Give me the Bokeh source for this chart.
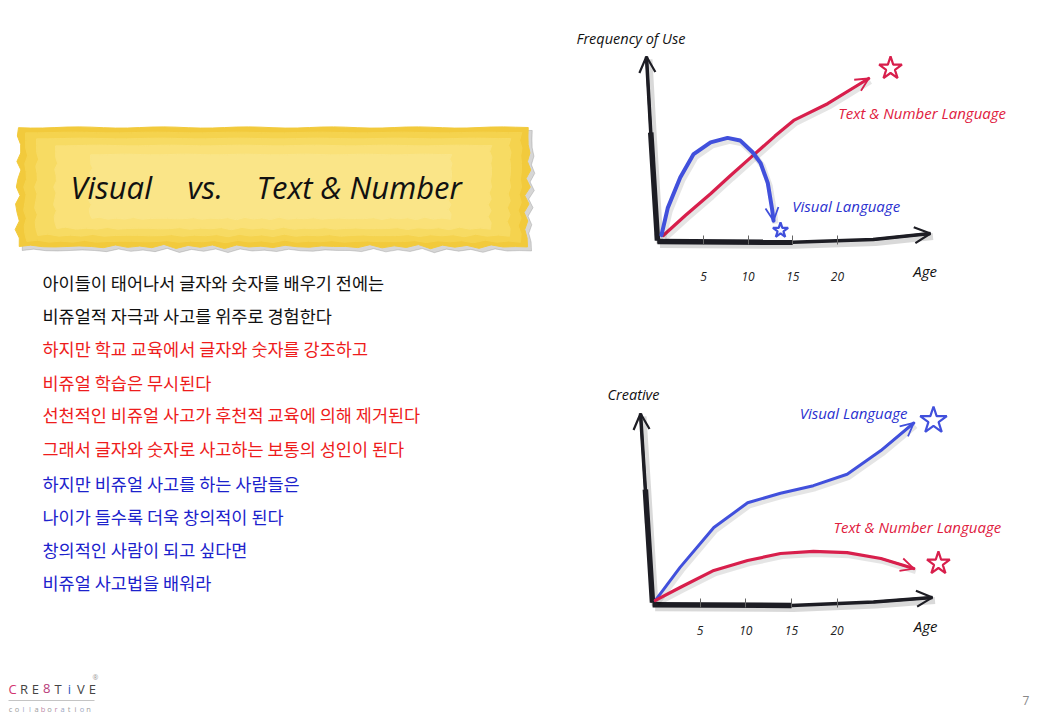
import numpy as np
from bokeh.plotting import figure
from bokeh.layouts import row, column
from bokeh.models import Range1d, Arrow, OpenHead, FixedTicker
from bokeh.core.properties import value
from bokeh.embed import file_html
from bokeh.resources import INLINE

FONT = "Open Sans"
KFONT = "Noto Sans CJK KR"

# ---------------- data ----------------
TITLE_PARTS = ["Visual", "vs.", "Text & Number"]

KOREAN_LINES = [
    "아이들이 태어나서 글자와 숫자를 배우기 전에는",
    "비쥬얼적 자극과 사고를 위주로 경험한다",
    "하지만 학교 교육에서 글자와 숫자를 강조하고",
    "비쥬얼 학습은 무시된다",
    "선천적인 비쥬얼 사고가 후천적 교육에 의해 제거된다",
    "그래서 글자와 숫자로 사고하는 보통의 성인이 된다",
    "하지만 비쥬얼 사고를 하는 사람들은",
    "나이가 들수록 더욱 창의적이 된다",
    "창의적인 사람이 되고 싶다면",
    "비쥬얼 사고법을 배워라",
]
KOREAN_GROUP = ["k", "k", "r", "r", "r", "r", "b", "b", "b", "b"]

TICK_AGES = [5, 10, 15, 20]

# chart 1 : frequency of use by age
visual_age_1 = [0.3, 1.0, 2.4, 3.9, 5.8, 7.7, 9.1, 10.5, 11.4, 12.2, 12.7, 12.85]
visual_freq_1 = [3, 18, 35, 48, 54.5, 57, 55.6, 49, 43, 32, 17, 11]
text_age_1 = [0.5, 3.0, 5.8, 8.0, 10.5, 13.0, 15.1, 18.9, 23.5]
text_freq_1 = [2.8, 14, 26, 36, 47, 58, 66.7, 76, 90]

# chart 2 : creativity by age
age_2 = [0.1, 2.8, 6.5, 10.2, 13.8, 17.4, 21.1, 24.8, 28.4]
visual_creative_2 = [1.6, 19, 40, 53, 58, 62, 68, 80.5, 95]
text_creative_2 = [1.6, 8.4, 17.4, 22.6, 26.3, 27.4, 26.8, 23.7, 18.4]

# ---------------- styles ----------------
C_BLACK = "#111111"
C_RED_TXT = "#ee1c1c"
C_BLUE_TXT = "#1c22cc"
C_LINE_RED = "#d81f4c"
C_LINE_BLUE = "#4150dc"
C_LBL_RED = "#e0203e"
C_LBL_BLUE = "#2a30cf"
GROUP_COLOR = {"k": C_BLACK, "r": C_RED_TXT, "b": C_BLUE_TXT}

# ---------------- left panel ----------------
left = figure(width=548, height=720, x_range=Range1d(0, 548), y_range=Range1d(720, 0),
              output_backend="svg", toolbar_location=None,
              x_axis_location=None, y_axis_location=None,
              min_border_left=0, min_border_right=0, min_border_top=0, min_border_bottom=0)
left.grid.grid_line_color = None
left.outline_line_color = None
left.background_fill_color = "white"
left.border_fill_color = "white"


def torn_shape(x0, y0, x1, y1, amp, ph):
    xs, ys = [], []
    n, m = 42, 14
    for i in range(n):
        t = i / n
        xs.append(x0 + (x1 - x0) * t)
        ys.append(y0 + amp * 0.25 * np.sin(0.9 * i + ph))
    for i in range(m):
        t = i / m
        xs.append(x1 + amp * (np.sin(2.9 * i + ph) + 0.6 * np.sin(6.7 * i)))
        ys.append(y0 + (y1 - y0) * t)
    for i in range(n):
        t = i / n
        xs.append(x1 - (x1 - x0) * t)
        ys.append(y1 + amp * 0.6 * (np.sin(3.3 * i + ph) + 0.5 * np.sin(8.1 * i)))
    for i in range(m):
        t = i / m
        xs.append(x0 + amp * (np.sin(2.3 * i + ph) + 0.5 * np.sin(5.9 * i)))
        ys.append(y1 - (y1 - y0) * t)
    return xs, ys


sx, sy = torn_shape(21, 130, 531, 250, 2.5, 0.3)
left.patch(sx, sy, color="#8a8a8a", alpha=0.35)
bx, by = torn_shape(18, 127, 527, 246, 2.5, 0.3)
left.patch(bx, by, color="#f2ca3c")
for (x0, y0, x1, y1, col) in [(25, 132, 520, 241, "#f5d450"),
                              (36, 138, 509, 235, "#f7db66"),
                              (55, 145, 490, 228, "#f9e17a"),
                              (90, 154, 450, 218, "#fae58a")]:
    ix, iy = torn_shape(x0, y0, x1, y1, 1.5, 1.1)
    left.patch(ix, iy, color=col, alpha=0.9)

left.text(x=[70, 187, 256], y=[186, 186, 186], text=TITLE_PARTS,
          text_font=value(FONT), text_font_size="31px", text_font_style="italic",
          text_color=C_BLACK, text_baseline="middle", text_align="left")

k_y = [281.5, 315, 347.5, 381.5, 414, 448, 482.5, 515.5, 549, 581.5]
left.text(x=[42] * len(KOREAN_LINES), y=k_y, text=KOREAN_LINES,
          text_color=[GROUP_COLOR[g] for g in KOREAN_GROUP],
          text_font=value(KFONT), text_font_size="17.5px",
          text_baseline="middle", text_align="left")

# logo
logo_letters = ["C", "R", "E", "8", "T", "i", "V", "E"]
logo_colors = ["#d2346e", "#444444", "#444444", "#b83a78", "#444444", "#2a5cc0", "#444444", "#444444"]
left.text(x=[12 + 11.4 * i for i in range(8)], y=[688] * 8, text=logo_letters,
          text_color=logo_colors, text_font=value(FONT), text_font_size="13px",
          text_baseline="middle", text_align="center")
left.line([8, 94], [700, 700], color="#c4c4c4", line_width=1)
left.text(x=[95], y=[677], text=["®"], text_color="#999999", text_font=value(FONT),
          text_font_size="7px", text_baseline="middle", text_align="center")
col_letters = list("collaboration")
col_colors = ["#999999", "#a0a0a0", "#9aa7c4", "#9aa7c4", "#a0a0a0", "#c08aa8", "#999999",
              "#c08aa8", "#9aa7c4", "#a0a0a0", "#999999", "#9aa7c4", "#a0a0a0"]
left.text(x=[10 + 6.5 * i for i in range(13)], y=[708] * 13, text=col_letters,
          text_color=col_colors, text_font=value(FONT), text_font_size="7.5px",
          text_baseline="middle", text_align="center")


# ---------------- charts ----------------
def make_chart(h, xr, yr, standoff):
    p = figure(width=492, height=h, x_range=Range1d(*xr), y_range=Range1d(*yr),
               output_backend="svg", toolbar_location=None,
               y_axis_location=None, x_axis_location="below",
               min_border_left=0, min_border_right=0, min_border_top=0,
               min_border_bottom=0)
    p.grid.grid_line_color = None
    p.outline_line_color = None
    p.background_fill_color = "white"
    p.border_fill_color = "white"
    ax = p.xaxis[0]
    ax.fixed_location = 0
    ax.ticker = FixedTicker(ticks=TICK_AGES)
    ax.axis_line_color = None
    ax.major_tick_in = 5
    ax.major_tick_out = 4
    ax.major_tick_line_color = "#666666"
    ax.major_tick_line_width = 1
    ax.minor_tick_line_color = None
    ax.major_label_text_font = FONT
    ax.major_label_text_font_style = "italic"
    ax.major_label_text_font_size = "12px"
    ax.major_label_text_color = "#222222"
    ax.major_label_standoff = standoff
    return p


def hand_axes(p, sxp, syp, y_axis, x_axis):
    dx, dy = 2.5 / sxp, -3.0 / syp
    for xs, ys in (y_axis, x_axis):
        xs = np.array(xs, dtype=float)
        ys = np.array(ys, dtype=float)
        p.line(xs + dx, ys + dy, color="#000000", alpha=0.15, line_width=7)
        p.line(xs, ys, color="#1d1d24", line_width=3.5)
        p.line(xs[:2], ys[:2], color="#1d1d24", line_width=5.5)
        p.add_layout(Arrow(end=OpenHead(size=16, line_color="#1d1d24", line_width=2.2),
                           x_start=xs[-2], y_start=ys[-2], x_end=xs[-1], y_end=ys[-1],
                           line_color="#1d1d24", line_width=2.5))


def curve(p, sxp, syp, xs, ys, color, width, head):
    xs = np.array(xs, dtype=float)
    ys = np.array(ys, dtype=float)
    p.line(xs + 2.0 / sxp, ys - 3.0 / syp, color="#000000", alpha=0.10, line_width=width + 2)
    p.line(xs, ys, color=color, line_width=width, line_join="round", line_cap="round")
    p.add_layout(Arrow(end=OpenHead(size=head, line_color=color, line_width=1.8),
                       x_start=xs[-2], y_start=ys[-2], x_end=xs[-1], y_end=ys[-1],
                       line_color=color, line_width=width * 0.6))


def star(p, x, y, size, color):
    p.scatter([x], [y], marker="star", size=size, fill_color=None,
              line_color=color, line_width=2.2)


def txt(p, x, y, s, color, size, style="italic"):
    p.text(x=[x], y=[y], text=[s], text_color=color, text_font=value(FONT),
           text_font_size=size, text_font_style=style,
           text_baseline="middle", text_align="left")


# chart 1  (frame: x 548..1040, y 0..338)
c1 = make_chart(338, (-12.35, 42.74), (-54.44, 133.33), 27)
S1X, S1Y = 8.93, 1.8
hand_axes(c1, S1X, S1Y,
          ([-0.15, -0.9, -1.38], [0, 60, 102.2]),
          ([-0.15, 15, 24, 30.42], [-0.6, -1.0, 0.6, 3.9]))
curve(c1, S1X, S1Y, text_age_1, text_freq_1, C_LINE_RED, 3.2, 13)
curve(c1, S1X, S1Y, visual_age_1, visual_freq_1, C_LINE_BLUE, 4.0, 13)
star(c1, 25.95, 95.6, 24, C_LINE_RED)
star(c1, 13.63, 5.6, 16, C_LINE_BLUE)
txt(c1, -9.22, 112.2, "Frequency of Use", "#111111", "14.5px")
txt(c1, 20.1, 71.1, "Text & Number Language", C_LBL_RED, "15px")
txt(c1, 14.95, 19.4, "Visual Language", C_LBL_BLUE, "15px")
txt(c1, 28.5, -16.7, "Age", "#111111", "15px")

# chart 2  (frame: x 548..1040, y 338..720)
c2 = make_chart(382, (-11.61, 42.28), (-61.58, 139.47), 19)
S2X, S2Y = 9.13, 1.9
hand_axes(c2, S2X, S2Y,
          ([-0.22, -1.0, -1.53], [0.5, 60, 100]),
          ([-0.2, 15, 24, 30.45], [-0.6, -1.0, 0.8, 3.2]))
curve(c2, S2X, S2Y, age_2, visual_creative_2, C_LINE_BLUE, 3.0, 13)
curve(c2, S2X, S2Y, age_2, text_creative_2, C_LINE_RED, 3.2, 13)
star(c2, 30.56, 96.3, 28, C_LINE_BLUE)
star(c2, 31.1, 21.1, 24, C_LINE_RED)
txt(c2, -5.15, 110, "Creative", "#111111", "14.5px")
txt(c2, 15.9, 100.5, "Visual Language", C_LBL_BLUE, "15px")
txt(c2, 19.6, 40, "Text & Number Language", C_LBL_RED, "15px")
txt(c2, 28.4, -11.6, "Age", "#111111", "15px")
txt(c2, 40.3, -51, "7", "#888888", "12px", "normal")

layout = row(left, column(c1, c2))
open("out.html", "w").write(file_html(layout, INLINE))
